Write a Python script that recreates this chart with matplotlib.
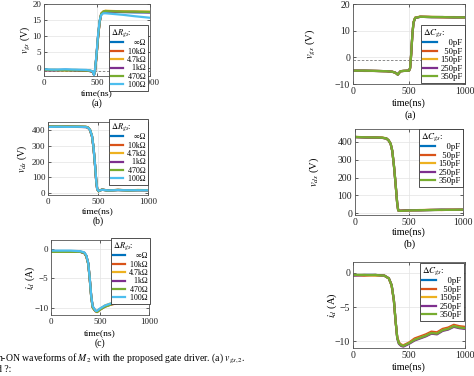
import matplotlib
matplotlib.use("Agg")
import matplotlib.pyplot as plt
from matplotlib.textpath import TextToPath
from matplotlib.font_manager import FontProperties

plt.rcParams['font.family'] = ['Liberation Serif', 'DejaVu Serif']
plt.rcParams['mathtext.fontset'] = 'stix'

# MATLAB default line colours
colors = ['#0072BD', '#D95319', '#EDB120', '#7E2F8E', '#77AC30', '#4DBEEE']

##################################################
# left column: gate resistance sweep
r_labels = ['\u221e\u03a9', '10k\u03a9', '4.7k\u03a9', '1k\u03a9', '470\u03a9', '100\u03a9']

t_vgs_r = [0, 100, 200, 300, 400, 440, 460, 472, 482, 495, 510, 525, 540, 560, 580, 650, 750, 850, 1000]
vgs_r = [
    [-0.6, -0.7, -0.6, -0.7, -0.8, -0.9, -1.2, -2.0, -0.6, 3.8, 9.8, 14.4, 16.8, 17.4, 17.6, 17.5, 17.5, 17.4, 17.4],
    [-0.7, -0.6, -0.7, -0.7, -0.8, -1.0, -1.3, -2.1, -0.7, 3.6, 9.6, 14.3, 16.9, 17.6, 17.8, 17.7, 17.6, 17.6, 17.5],
    [-0.6, -0.7, -0.7, -0.6, -0.8, -0.9, -1.2, -2.0, -0.6, 3.7, 9.7, 14.4, 17.0, 17.7, 17.9, 17.8, 17.7, 17.6, 17.6],
    [-0.7, -0.7, -0.6, -0.7, -0.8, -1.0, -1.3, -2.1, -0.7, 3.8, 9.8, 14.5, 16.9, 17.5, 17.7, 17.6, 17.5, 17.5, 17.4],
    [-0.6, -0.6, -0.7, -0.7, -0.8, -0.9, -1.2, -2.0, -0.6, 3.7, 9.7, 14.6, 17.0, 17.6, 17.8, 17.7, 17.6, 17.6, 17.5],
    [-0.4, -0.5, -0.4, -0.5, -0.6, -0.8, -1.1, -2.2, -0.4, 4.2, 10.3, 14.8, 16.6, 17.1, 17.1, 16.9, 16.6, 16.2, 15.7],
]

t_vds_r = [0, 100, 200, 300, 380, 400, 420, 440, 455, 470, 482, 492, 505, 540, 600, 700, 800, 900, 1000]
vds_r = [
    [420, 421, 420, 420, 419, 415, 400, 360, 290, 180, 80, 25, 12, 22, 16, 20, 17, 19, 18],
    [421, 420, 421, 420, 418, 414, 399, 358, 288, 178, 78, 24, 13, 21, 17, 19, 18, 18, 19],
    [422, 421, 422, 421, 420, 416, 401, 361, 291, 181, 81, 26, 12, 23, 16, 21, 17, 20, 18],
    [420, 420, 420, 419, 418, 414, 399, 359, 289, 179, 79, 25, 13, 22, 17, 20, 18, 19, 18],
    [421, 422, 421, 421, 419, 415, 400, 360, 290, 180, 80, 25, 12, 22, 16, 20, 17, 19, 19],
    [419, 420, 419, 420, 418, 414, 401, 362, 292, 182, 82, 27, 14, 21, 17, 19, 18, 18, 18],
]

t_id_r = [0, 100, 200, 300, 340, 360, 380, 395, 410, 425, 440, 455, 470, 500, 550, 600, 650, 700, 750, 800, 850, 900, 950, 1000]
id_r = [
    [-0.4, -0.4, -0.4, -0.5, -0.7, -1.2, -2.5, -5.0, -8.0, -9.8, -10.2, -10.5, -10.6, -10.2, -9.7, -9.4, -9.2, -8.9, -8.6, -8.8, -8.4, -8.1, -8.4, -8.1],
    [-0.5, -0.4, -0.5, -0.5, -0.7, -1.2, -2.4, -4.9, -7.9, -9.9, -10.3, -10.6, -10.7, -10.3, -9.8, -9.5, -9.3, -9.0, -8.7, -8.9, -8.5, -8.2, -8.5, -8.2],
    [-0.4, -0.5, -0.4, -0.5, -0.7, -1.3, -2.6, -5.1, -8.1, -9.8, -10.2, -10.4, -10.6, -10.2, -9.6, -9.3, -9.1, -8.8, -8.5, -8.7, -8.3, -8.0, -8.3, -8.0],
    [-0.4, -0.4, -0.4, -0.5, -0.7, -1.2, -2.5, -5.0, -8.0, -9.8, -10.2, -10.5, -10.6, -10.2, -9.7, -9.4, -9.2, -8.9, -8.6, -8.8, -8.4, -8.1, -8.4, -8.1],
    [-0.5, -0.5, -0.5, -0.5, -0.7, -1.2, -2.5, -5.0, -8.0, -9.9, -10.3, -10.5, -10.7, -10.3, -9.8, -9.5, -9.2, -9.0, -8.7, -8.9, -8.5, -8.2, -8.5, -8.2],
    [-0.3, -0.3, -0.3, -0.4, -0.6, -1.1, -2.4, -4.9, -7.9, -9.7, -10.1, -10.5, -10.5, -10.1, -9.6, -9.3, -9.1, -8.8, -8.5, -8.7, -8.3, -8.0, -8.3, -8.0],
]

##################################################
# right column: gate capacitance sweep
c_labels = ['0pF', '50pF', '150pF', '250pF', '350pF']

t_vgs_c = [0, 100, 200, 300, 350, 375, 390, 400, 410, 425, 450, 500, 510, 520, 530, 540, 555, 600, 700, 800, 900, 1000]
vgs_c = [
    [-5.0, -5.0, -5.1, -5.2, -5.4, -5.7, -6.1, -6.5, -5.9, -5.2, -5.1, -5.0, -4.0, 1.5, 8.5, 13.0, 14.8, 15.2, 15.1, 15.1, 15.0, 15.0],
    [-5.0, -5.1, -5.1, -5.2, -5.4, -5.7, -6.1, -6.4, -5.9, -5.2, -5.1, -5.0, -4.0, 1.4, 8.4, 13.0, 14.8, 15.2, 15.1, 15.0, 15.0, 15.0],
    [-5.1, -5.0, -5.1, -5.2, -5.4, -5.7, -6.2, -6.5, -5.9, -5.2, -5.1, -5.0, -4.1, 1.5, 8.5, 13.1, 14.9, 15.3, 15.2, 15.1, 15.1, 15.0],
    [-5.0, -5.0, -5.1, -5.2, -5.4, -5.7, -6.1, -6.5, -5.9, -5.2, -5.1, -5.0, -4.0, 1.5, 8.5, 13.0, 14.8, 15.2, 15.1, 15.1, 15.0, 15.0],
    [-5.0, -5.0, -5.1, -5.2, -5.4, -5.7, -6.1, -6.5, -5.9, -5.2, -5.1, -5.0, -4.0, 1.6, 8.6, 13.1, 14.8, 15.2, 15.1, 15.1, 15.0, 15.0],
]

t_vds_c = [0, 100, 200, 250, 290, 310, 330, 345, 360, 375, 390, 400, 420, 500, 600, 700, 800, 900, 1000]
vds_c = [
    [428, 426, 425, 424, 420, 410, 390, 350, 270, 170, 60, 15, 12, 15, 16, 17, 18, 18, 19],
    [427, 427, 424, 424, 419, 409, 389, 349, 269, 169, 59, 14, 13, 16, 16, 18, 17, 19, 18],
    [429, 426, 426, 425, 421, 411, 391, 351, 271, 171, 61, 16, 12, 15, 17, 17, 18, 18, 19],
    [428, 425, 425, 423, 420, 410, 390, 350, 270, 170, 60, 15, 13, 16, 16, 17, 19, 18, 19],
    [428, 426, 425, 424, 420, 410, 390, 350, 270, 170, 60, 15, 12, 15, 16, 17, 18, 18, 19],
]

t_id_c = [0, 100, 200, 280, 320, 345, 365, 380, 395, 410, 430, 450, 500, 550, 600, 650, 700, 750, 800, 850, 900, 950, 1000]
id_c = [
    [-0.3, -0.3, -0.3, -0.4, -0.8, -1.8, -4.0, -7.0, -9.5, -10.3, -10.6, -10.7, -10.3, -9.8, -9.5, -9.2, -8.8, -8.9, -8.4, -8.2, -7.8, -8.0, -8.1],
    [-0.3, -0.4, -0.3, -0.4, -0.8, -1.8, -4.1, -7.1, -9.4, -10.2, -10.5, -10.6, -10.2, -9.6, -9.3, -9.0, -8.6, -8.7, -8.2, -8.0, -7.6, -7.8, -7.9],
    [-0.3, -0.3, -0.4, -0.4, -0.8, -1.9, -4.0, -7.0, -9.5, -10.3, -10.6, -10.7, -10.3, -9.8, -9.5, -9.2, -8.8, -8.9, -8.4, -8.2, -7.8, -8.0, -8.1],
    [-0.4, -0.3, -0.3, -0.4, -0.8, -1.8, -4.0, -7.0, -9.6, -10.4, -10.7, -10.8, -10.4, -9.9, -9.6, -9.3, -8.9, -9.0, -8.5, -8.3, -7.9, -8.1, -8.2],
    [-0.3, -0.3, -0.3, -0.4, -0.8, -1.8, -4.0, -7.0, -9.5, -10.3, -10.6, -10.7, -10.3, -9.8, -9.5, -9.2, -8.8, -8.9, -8.4, -8.2, -7.8, -8.0, -8.1],
]

##################################################
W, H = 474, 376
fig = plt.figure(figsize=(W / 100, H / 100), dpi=100)
ttp = TextToPath()


def px_axes(x0, y0, x1, y1):
    # pixel box, y measured from the top of the image
    return fig.add_axes([x0 / W, 1 - y1 / H, (x1 - x0) / W, (y1 - y0) / H])


def pad_labels(labels, size):
    # right align legend entries by padding with spaces
    fp = FontProperties(family='Liberation Serif', size=size)
    wid = [ttp.get_text_width_height_descent(s, fp, ismath=False)[0] for s in labels]
    sp = (ttp.get_text_width_height_descent('a a', fp, ismath=False)[0]
          - ttp.get_text_width_height_descent('aa', fp, ismath=False)[0])
    return [' ' * int(round((max(wid) - w) / sp)) + s for s, w in zip(labels, wid)]


def panel(box, t, series, labels, ylim, yticks, ylabel, ylab_x, xlab_y,
          leg_xy, leg_title, fs, cols, tag, tag_xy, dash=None):
    x0, y0, x1, y1 = box
    ax = px_axes(*box)
    for i, ys in enumerate(series):
        ax.plot(t, ys, color=cols[i], lw=1.6, solid_joinstyle='round')
    if dash is not None:
        ax.axhline(dash, color='#777777', lw=0.6, ls=(0, (3, 2)), zorder=0)
    ax.set_xlim(0, 1000)
    ax.set_ylim(*ylim)
    ax.set_xticks([0, 500, 1000])
    ax.set_yticks(yticks)
    ax.grid(True, color='#e3e3e3', lw=0.5)
    ax.set_axisbelow(True)
    ax.tick_params(direction='in', length=2, width=0.5, labelsize=fs, pad=2,
                   top=True, right=True, colors='#222222')
    for s in ax.spines.values():
        s.set_color('#555555')
        s.set_linewidth(0.6)
    ax.set_xlabel('time(ns)', fontsize=fs + 0.3, va='center')
    ax.xaxis.set_label_coords(0.5, (y1 - xlab_y) / (y1 - y0))
    ax.set_ylabel(ylabel, fontsize=fs + 0.6, va='center')
    ax.yaxis.set_label_coords((ylab_x - x0) / (x1 - x0), 0.5)
    leg = ax.legend(pad_labels(labels, fs - 0.8), title=leg_title,
                    loc='upper right', bbox_to_anchor=(leg_xy[0] / W, 1 - leg_xy[1] / H),
                    bbox_transform=fig.transFigure, fontsize=fs - 0.8,
                    title_fontsize=fs - 0.5, alignment='left', fancybox=False,
                    framealpha=1, edgecolor='#333333', borderpad=0.25,
                    labelspacing=0.05, handlelength=1.6, handletextpad=0.4,
                    borderaxespad=0)
    leg.get_frame().set_linewidth(0.6)
    leg.set_zorder(5)
    fig.text(tag_xy[0] / W, 1 - tag_xy[1] / H, tag, fontsize=fs + 0.6,
             ha='center', va='center')
    return ax


r_title = r'$\Delta R_{gs}$:'
c_title = r'$\Delta C_{gs}$:'

panel((44, 4, 150, 76), t_vgs_r, vgs_r, r_labels, (-2.5, 20), [0, 5, 10, 15, 20],
      r'$v_{gs}$ (V)', 25, 93, (148, 25), r_title, 6.5, colors, '(a)', (97, 103), dash=-1)
panel((48, 122, 148, 195), t_vds_r, vds_r, r_labels, (-12, 450), [0, 100, 200, 300, 400],
      r'$v_{ds}$ (V)', 22, 211, (148, 119), r_title, 6.5, colors, '(b)', (98, 221))
panel((51, 240, 149, 315), t_id_r, id_r, r_labels, (-11.2, 1.5), [-10, -5, 0],
      r'$i_d$ (A)', 30, 333, (150, 238), r_title, 6.5, colors, '(c)', (100, 343))

panel((353, 4, 465, 84), t_vgs_c, vgs_c, c_labels, (-10, 20), [-10, 0, 10, 20],
      r'$v_{gs}$ (V)', 310, 103, (465, 25), c_title, 7, colors, '(a)', (410, 115), dash=-1)
panel((355, 129, 463, 215), t_vds_c, vds_c, c_labels, (-11, 473), [0, 100, 200, 300, 400],
      r'$v_{ds}$ (V)', 314, 232, (463, 129), c_title, 7, colors, '(b)', (410, 244))
panel((353, 262, 465, 348), t_id_c, id_c, c_labels, (-11, 1.6), [-10, -5, 0],
      r'$i_d$ (A)', 332, 367, (464, 263), c_title, 7, colors, '(c)', (410, 382))

# caption fragment cut off by the page crop
fig.text(-3 / W, 1 - 358 / H,
         r'n-ON waveforms of $M_2$ with the proposed gate driver. (a) $v_{gs,2}$.',
         fontsize=7, ha='left', va='center')
fig.text(-3 / W, 1 - 369 / H, 'd ?:', fontsize=7, ha='left', va='center')

fig.savefig('out.png', dpi=100, facecolor='white')
